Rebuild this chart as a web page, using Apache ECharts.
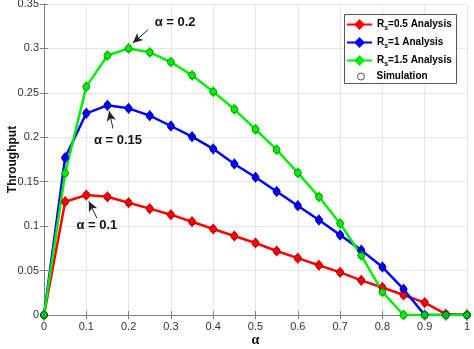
<!DOCTYPE html>
<html>
<head>
<meta charset="utf-8">
<script src="https://cdn.jsdelivr.net/npm/echarts@6/dist/echarts.min.js"></script>
<style>
  html, body { margin: 0; padding: 0; background: #fff; }
  #chart { width: 474px; height: 349px; }
</style>
</head>
<body>
<div id="chart"></div>
<script>
// Throughput versus alpha for three R_s values (analysis curves + simulation points)
const alpha = [0, 0.05, 0.1, 0.15, 0.2, 0.25, 0.3, 0.35, 0.4, 0.45, 0.5,
               0.55, 0.6, 0.65, 0.7, 0.75, 0.8, 0.85, 0.9, 0.95, 1];
const rs05 = [0, 0.1275, 0.135, 0.133, 0.1264, 0.1197, 0.1129, 0.105, 0.0968, 0.0889, 0.081,
              0.072, 0.064, 0.056, 0.048, 0.039, 0.031, 0.0225, 0.014, 0.001, 0];
const rs1 = [0, 0.177, 0.227, 0.236, 0.2326, 0.2243, 0.2127, 0.2007, 0.187, 0.170, 0.155,
             0.139, 0.123, 0.107, 0.090, 0.073, 0.054, 0.029, 0, 0, 0];
const rs15 = [0, 0.1595, 0.257, 0.292, 0.300, 0.2956, 0.2847, 0.2697, 0.2513, 0.2315, 0.209,
              0.186, 0.160, 0.133, 0.103, 0.067, 0.026, 0, 0, 0, 0];
const yTicks = [0, 0.05, 0.1, 0.15, 0.2, 0.25, 0.3, 0.35];
const xTicks = [0, 0.1, 0.2, 0.3, 0.4, 0.5, 0.6, 0.7, 0.8, 0.9, 1];

// Annotated optima: [label, text position, arrow start, arrow tip]
const notes = [
  ['α = 0.2',  [0.31, 0.329],  [0.246, 0.321], [0.210, 0.306]],
  ['α = 0.15', [0.175, 0.197], [0.163, 0.210], [0.154, 0.2296]],
  ['α = 0.1',  [0.125, 0.101], [0.125, 0.109], [0.106, 0.128]]
];

const pair = (ys) => alpha.map((a, i) => [a, ys[i]]);
const FONT = '"Liberation Sans", Arial, Helvetica, sans-serif';
const AXIS_GRAY = '#808080';

function analysis(name, color, ys) {
  return {
    name: name,
    type: 'line',
    data: pair(ys),
    symbol: 'diamond',
    symbolSize: [7, 10],
    showAllSymbol: true,
    lineStyle: { color: color, width: 2.5 },
    itemStyle: { color: color, borderColor: color, borderWidth: 1 },
    z: 3
  };
}

function simulation(color, ys) {
  return {
    name: 'Simulation',
    type: 'scatter',
    data: pair(ys),
    symbol: 'circle',
    symbolSize: 7,
    itemStyle: { color: color, borderColor: 'rgba(0,0,0,0.45)', borderWidth: 1 },
    z: 4
  };
}

const chart = echarts.init(document.getElementById('chart'), null, { renderer: 'canvas' });

const labelRich = {
  b: { fontFamily: FONT, fontSize: 10, fontWeight: 'bold', color: '#000' },
  p: { fontFamily: FONT, fontSize: 10, fontWeight: 'bold', color: '#000', padding: [0, 0, 0, 7] },
  s: { fontFamily: FONT, fontSize: 7, fontWeight: 'bold', color: '#000', padding: [8, 0, 0, 0] }
};

const series = [
  analysis('rs05', '#ff0000', rs05),
  analysis('rs1', '#0000ff', rs1),
  analysis('rs15', '#00ee00', rs15),
  simulation('#ff0000', rs05),
  simulation('#0000ff', rs1),
  simulation('#00ee00', rs15)
];

// Arrows and their text, placed in data coordinates
series.push({
  type: 'line',
  data: [],
  silent: true,
  markLine: {
    silent: true,
    symbol: ['none', 'arrow'],
    symbolSize: [7, 10],
    lineStyle: { color: '#222', width: 1, type: 'solid' },
    label: { show: false },
    data: notes.map(n => [{ coord: n[2] }, { coord: n[3] }])
  },
  markPoint: {
    silent: true,
    symbol: 'circle',
    symbolSize: 0,
    label: {
      show: true,
      position: 'inside',
      fontFamily: FONT,
      fontSize: 13,
      fontWeight: 'bold',
      color: '#111',
      formatter: p => p.name
    },
    data: notes.map(n => ({ name: n[0], coord: n[1] }))
  }
});

const legendText = {
  rs05: '{b|R}{s|s}{b|=0.5 Analysis}',
  rs1: '{b|R}{s|s}{b|=1 Analysis}',
  rs15: '{b|R}{s|s}{b|=1.5 Analysis}',
  Simulation: '{p|Simulation}'
};

const legendCommon = {
  orient: 'vertical',
  itemGap: 4,
  borderWidth: 0,
  backgroundColor: 'transparent',
  formatter: name => legendText[name],
  textStyle: { rich: labelRich, lineHeight: 13 },
  z: 10
};

chart.setOption({
  animation: false,
  backgroundColor: '#fff',
  grid: { left: 44, right: 7, top: 4, bottom: 34, containLabel: false, outerBoundsMode: 'none' },
  graphic: [{
    type: 'rect',
    shape: { x: 344.5, y: 14.5, width: 112, height: 69 },
    style: { fill: '#fff', stroke: '#555', lineWidth: 1 },
    z: 9
  }],
  legend: [
    Object.assign({}, legendCommon, {
      left: 346, top: 18, padding: 0, itemWidth: 25, itemHeight: 10,
      data: [{ name: 'rs05' }, { name: 'rs1' }, { name: 'rs15' }]
    }),
    Object.assign({}, legendCommon, {
      left: 357, top: 70, padding: 0, itemWidth: 7, itemHeight: 7,
      data: [{ name: 'Simulation', icon: 'circle',
               itemStyle: { color: '#fff', borderColor: '#333', borderWidth: 1 } }]
    })
  ],
  xAxis: [{
    type: 'value',
    min: 0, max: 1, interval: 0.1,
    name: 'α',
    nameLocation: 'middle',
    nameGap: 18,
    nameMoveOverlap: false,
    nameTextStyle: { fontFamily: '"Liberation Serif", "Times New Roman", serif', fontSize: 14, fontWeight: 'bold', color: '#111' },
    axisLine: { show: true, lineStyle: { color: AXIS_GRAY, width: 1 } },
    axisTick: { show: true, inside: true, length: 4, lineStyle: { color: AXIS_GRAY } },
    axisLabel: { fontFamily: FONT, fontSize: 11, color: '#333', margin: 6,
                 formatter: v => String(+v.toFixed(2)) },
    splitLine: { show: true, lineStyle: { color: '#e6e6e6', width: 1 } }
  }, {
    type: 'value',
    min: 0, max: 1, interval: 0.1,
    position: 'top',
    axisLine: { show: true, lineStyle: { color: AXIS_GRAY, width: 1 } },
    axisTick: { show: true, inside: true, length: 4, lineStyle: { color: AXIS_GRAY } },
    axisLabel: { show: false },
    splitLine: { show: false }
  }],
  yAxis: [{
    type: 'value',
    min: 0, max: 0.35, interval: 0.05,
    name: 'Throughput',
    nameLocation: 'middle',
    nameGap: 25,
    nameMoveOverlap: false,
    nameTextStyle: { fontFamily: FONT, fontSize: 12, fontWeight: 'bold', color: '#111' },
    axisLine: { show: true, lineStyle: { color: AXIS_GRAY, width: 1 } },
    axisTick: { show: true, inside: true, length: 4, lineStyle: { color: AXIS_GRAY } },
    axisLabel: { fontFamily: FONT, fontSize: 11, color: '#333', margin: 5,
                 formatter: v => String(+v.toFixed(2)) },
    splitLine: { show: true, lineStyle: { color: '#e6e6e6', width: 1 } }
  }, {
    type: 'value',
    min: 0, max: 0.35, interval: 0.05,
    position: 'right',
    axisLine: { show: true, lineStyle: { color: AXIS_GRAY, width: 1 } },
    axisTick: { show: true, inside: true, length: 4, lineStyle: { color: AXIS_GRAY } },
    axisLabel: { show: false },
    splitLine: { show: false }
  }],
  series: series
});
</script>
</body>
</html>
